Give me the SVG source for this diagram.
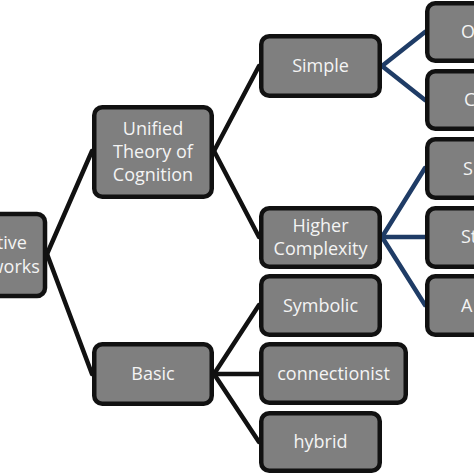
<svg xmlns="http://www.w3.org/2000/svg" width="474" height="474" viewBox="0 0 474 474">
<style>
.n rect{fill:#7f7f7f;stroke:#111;stroke-width:4.5}
.n text{font-family:"Open Sans","DejaVu Sans",sans-serif;font-size:18px;fill:#f4f4f4}
.c{text-anchor:middle}
.k line{stroke:#111;stroke-width:4.5;stroke-linecap:round}
.b line{stroke:#1f3c66;stroke-width:4.5;stroke-linecap:round}
</style>
<rect width="474" height="474" fill="#fff"/>
<g id="connectors">
<g class="k">
<line x1="47" y1="254" x2="92" y2="151"/>
<line x1="47" y1="254" x2="92" y2="374"/>
<line x1="214" y1="151" x2="259" y2="66"/>
<line x1="214" y1="151" x2="259" y2="237"/>
<line x1="214" y1="374" x2="259" y2="305"/>
<line x1="214" y1="374" x2="259" y2="374"/>
<line x1="214" y1="374" x2="259" y2="442"/>
</g>
<g class="b">
<line x1="382" y1="66" x2="425" y2="32"/>
<line x1="382" y1="66" x2="425" y2="100"/>
<line x1="382" y1="237" x2="425" y2="168"/>
<line x1="382" y1="237" x2="425" y2="237"/>
<line x1="382" y1="237" x2="425" y2="305"/>
</g>
</g>
<g id="cognitive" class="n"><rect x="-68" y="214" width="113" height="82" rx="8"/><text class="c" x="-12" y="249">Cognitive</text><text class="c" x="-12" y="273">Frameworks</text></g>
<g id="unified" class="n"><rect x="94.25" y="107.25" width="117.5" height="89.5" rx="8"/><text class="c" x="153" y="135">Unified</text><text class="c" x="153" y="158">Theory of</text><text class="c" x="153" y="181">Cognition</text></g>
<g id="basic" class="n"><rect x="94.25" y="344.25" width="117.5" height="59.5" rx="8"/><text class="c" x="153" y="380">Basic</text></g>
<g id="simple" class="n"><rect x="261.25" y="36.25" width="118.5" height="59.5" rx="8"/><text class="c" x="320.5" y="72">Simple</text></g>
<g id="higher" class="n"><rect x="261.25" y="208.25" width="118.5" height="58.5" rx="8"/><text class="c" x="320.5" y="232">Higher</text><text class="c" x="320.5" y="255">Complexity</text></g>
<g id="symbolic" class="n"><rect x="261.25" y="276.25" width="118.5" height="58.5" rx="8"/><text class="c" x="320.5" y="312">Symbolic</text></g>
<g id="connectionist" class="n"><rect x="261.25" y="344.25" width="144.5" height="58.5" rx="8"/><text class="c" x="333.5" y="380">connectionist</text></g>
<g id="hybrid" class="n"><rect x="261.25" y="413.25" width="118.5" height="57.5" rx="8"/><text class="c" x="320.5" y="448">hybrid</text></g>
<g id="r1" class="n"><rect x="427.25" y="3.25" width="100" height="57.5" rx="8"/><text x="461" y="38">O</text></g>
<g id="r2" class="n"><rect x="427.25" y="71.25" width="100" height="57.5" rx="8"/><text x="464" y="106">C</text></g>
<g id="r3" class="n"><rect x="427.25" y="139.25" width="100" height="58.5" rx="8"/><text x="463" y="175">S</text></g>
<g id="r4" class="n"><rect x="427.25" y="208.25" width="100" height="58.5" rx="8"/><text x="461" y="243">St</text></g>
<g id="r5" class="n"><rect x="427.25" y="276.25" width="100" height="58.5" rx="8"/><text x="461" y="312">A</text></g>
</svg>
